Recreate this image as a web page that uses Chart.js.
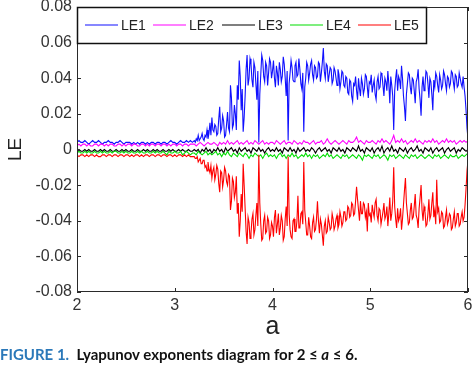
<!DOCTYPE html>
<html><head><meta charset="utf-8">
<script src="https://cdn.jsdelivr.net/npm/chart.js@4"></script>
<style>
html,body{margin:0;padding:0;background:#fff;width:474px;height:366px;overflow:hidden;}
#wrap{position:relative;width:474px;height:366px;}
canvas{position:absolute;left:0;top:0;}
#cap{position:absolute;left:0;top:345px;font:bold 15px Lato,"Open Sans",sans-serif;white-space:nowrap;color:#111;}
#cap .fig{color:#2a78b9;}
</style></head><body>
<div id="wrap"><canvas id="c" width="474" height="366"></canvas>
<div id="cap"><span class="fig">FIGURE 1.</span>&nbsp; Lyapunov exponents diagram for 2 ≤ <i>a</i> ≤ 6.</div></div>
<script>
// sampling grids of the parameter a
function grid(from, to, step) {
  return Array.from({length: Math.round((to - from) / step) + 1}, (_, i) => +(from + i * step).toFixed(2));
}
const A = grid(2, 6, 0.02);          // regular grid (2.00 .. 6.00)
const A_LOW = grid(2, 3.18, 0.02);   // quiet part (2.00 .. 3.18)
const A_FINE = grid(3.2, 6, 0.01);   // chaotic part, finer (3.20 .. 6.00)

const SERIES_NAMES = ['LE1', 'LE2', 'LE3', 'LE4', 'LE5'];
const X_TICKS = [2, 3, 4, 5, 6];
const Y_TICKS = [-0.08, -0.06, -0.04, -0.02, 0, 0.02, 0.04, 0.06, 0.08];

const LE1_LOW = [
0.004,0.005,0.004,0.004,0.005,0.004,0.003,0.004,0.005,0.004,
0.004,0.005,0.004,0.003,0.004,0.004,0.005,0.004,0.004,0.003,
0.004,0.004,0.005,0.004,0.003,0.004,0.004,0.004,0.003,0.004,
0.003,0.004,0.003,0.004,0.004,0.003,0.004,0.003,0.004,0.004,
0.003,0.004,0.004,0.003,0.004,0.004,0.003,0.004,0.005,0.004,
0.004,0.003,0.004,0.005,0.004,0.004,0.005,0.004,0.005,0.004];
const LE1_HIGH = [
0.005,0.004,0.006,0.005,0.008,0.005,0.006,0.007,0.009,0.006,
0.005,0.008,0.007,0.011,0.006,0.009,0.015,0.008,0.018,0.011,
0.010,0.014,0.013,0.008,0.009,0.017,0.024,0.010,0.012,0.019,
0.016,0.007,0.008,0.014,0.021,0.012,0.010,0.036,0.029,0.012,
0.014,0.025,0.020,0.011,0.036,0.028,0.050,0.041,0.022,0.034,
0.010,0.018,0.030,0.045,0.053,0.036,0.040,0.051,0.048,0.039,
0.035,0.049,0.046,0.037,0.028,0.044,0.004,0.031,0.042,0.053,
0.050,0.041,0.038,0.049,0.047,0.036,0.043,0.051,0.049,0.040,
0.044,0.050,0.040,0.035,0.047,0.043,0.036,0.049,0.045,0.038,
0.041,0.052,0.048,0.040,0.030,0.044,0.005,0.037,0.043,0.050,
0.046,0.039,0.038,0.047,0.049,0.041,0.042,0.051,0.045,0.037,
0.034,0.043,0.010,0.035,0.040,0.049,0.047,0.039,0.043,0.048,
0.050,0.042,0.039,0.047,0.046,0.040,0.041,0.049,0.048,0.038,
0.043,0.049,0.057,0.044,0.040,0.048,0.047,0.038,0.042,0.046,
0.045,0.037,0.039,0.046,0.044,0.040,0.036,0.045,0.042,0.034,
0.038,0.044,0.043,0.036,0.035,0.041,0.040,0.032,0.031,0.039,
0.038,0.030,0.027,0.037,0.036,0.041,0.033,0.028,0.040,0.034,
0.030,0.040,0.037,0.031,0.034,0.042,0.041,0.035,0.029,0.038,
0.037,0.042,0.032,0.036,0.039,0.031,0.028,0.038,0.041,0.034,
0.035,0.043,0.042,0.036,0.030,0.040,0.038,0.033,0.044,0.037,
0.026,0.041,0.036,0.030,0.011,0.033,0.040,0.045,0.033,0.041,
0.039,0.034,0.047,0.040,0.030,0.024,0.016,0.031,0.037,0.043,
0.042,0.035,0.031,0.040,0.039,0.033,0.026,0.038,0.040,0.045,
0.034,0.028,0.019,0.035,0.041,0.033,0.036,0.044,0.043,0.037,
0.029,0.040,0.038,0.031,0.022,0.039,0.035,0.043,0.041,0.036,
0.032,0.042,0.039,0.034,0.036,0.044,0.042,0.037,0.033,0.041,
0.040,0.035,0.037,0.044,0.043,0.038,0.034,0.042,0.041,0.035,
0.036,0.043,0.040,0.037,0.035,0.041,0.035,0.030,0.022,0.012,
0.006];

const LE2 = [
0.002,0.003,0.002,0.003,0.003,0.002,0.003,0.002,0.002,0.003,
0.003,0.002,0.003,0.003,0.002,0.003,0.002,0.003,0.003,0.002,
0.002,0.003,0.003,0.002,0.003,0.002,0.003,0.003,0.002,0.003,
0.003,0.002,0.002,0.003,0.003,0.002,0.003,0.002,0.003,0.003,
0.002,0.003,0.003,0.002,0.003,0.003,0.002,0.003,0.002,0.003,
0.003,0.002,0.003,0.003,0.002,0.003,0.003,0.002,0.003,0.003,
0.003,0.002,0.003,0.004,0.003,0.002,0.003,0.004,0.003,0.003,
0.004,0.003,0.002,0.004,0.003,0.004,0.003,0.005,0.003,0.004,
0.003,0.004,0.005,0.003,0.004,0.003,0.004,0.005,0.003,0.004,
0.003,0.005,0.004,0.003,0.004,0.005,0.003,0.004,0.003,0.004,
0.004,0.003,0.005,0.004,0.003,0.004,0.005,0.003,0.004,0.004,
0.003,0.005,0.004,0.003,0.004,0.003,0.005,0.004,0.004,0.003,
0.004,0.005,0.003,0.004,0.004,0.005,0.003,0.004,0.006,0.004,
0.003,0.004,0.005,0.004,0.003,0.004,0.005,0.004,0.003,0.005,
0.004,0.004,0.005,0.007,0.004,0.005,0.004,0.003,0.005,0.004,
0.004,0.005,0.004,0.003,0.005,0.004,0.006,0.004,0.005,0.004,
0.003,0.005,0.008,0.004,0.005,0.004,0.006,0.004,0.005,0.003,
0.004,0.005,0.004,0.006,0.004,0.005,0.004,0.003,0.005,0.004,
0.005,0.004,0.006,0.004,0.005,0.003,0.004,0.005,0.004,0.006,
0.004,0.005,0.004,0.005,0.003,0.004,0.005,0.004,0.005,0.004,
0.005];

const LE3 = [
-0.001,0.000,-0.001,-0.001,0.000,-0.001,0.000,-0.001,-0.001,0.000,
-0.001,-0.001,0.000,-0.001,0.000,-0.001,-0.001,0.000,-0.001,-0.001,
0.000,-0.001,-0.001,0.000,-0.001,0.000,-0.001,-0.001,0.000,-0.001,
-0.001,0.000,-0.001,-0.001,0.000,-0.001,0.000,-0.001,-0.001,0.000,
-0.001,0.000,-0.001,-0.001,0.000,-0.001,-0.001,0.000,-0.001,0.000,
-0.001,-0.001,0.000,-0.001,0.000,-0.001,-0.001,0.000,-0.001,-0.001,
0.000,-0.001,0.000,-0.002,0.000,-0.001,0.001,-0.001,0.000,-0.002,
0.000,-0.001,0.001,-0.001,0.000,-0.002,0.001,-0.001,0.000,0.001,
-0.001,0.000,-0.002,0.001,-0.001,0.000,0.001,-0.001,0.000,-0.002,
0.001,0.000,-0.001,0.001,-0.001,0.000,-0.002,0.000,0.001,-0.001,
0.000,-0.001,0.001,-0.001,0.000,-0.002,0.001,0.000,-0.001,0.001,
-0.001,0.000,-0.002,0.001,-0.001,0.000,0.001,-0.001,0.000,-0.001,
0.001,0.000,-0.002,0.000,0.001,-0.001,0.000,0.001,-0.001,0.000,
-0.002,0.001,0.000,-0.001,0.001,-0.001,0.000,-0.002,0.001,0.000,
-0.001,0.001,0.000,-0.001,0.002,-0.001,0.000,-0.002,0.001,0.000,
-0.001,0.001,-0.002,0.000,0.001,-0.001,0.002,-0.002,0.000,0.001,
-0.001,0.002,-0.001,0.000,-0.002,0.001,0.000,-0.001,0.001,-0.002,
0.000,0.001,-0.001,0.000,0.002,-0.001,0.000,-0.002,0.001,0.000,
-0.001,0.001,-0.002,0.000,0.001,-0.001,0.000,0.001,-0.002,0.000,
0.001,-0.001,0.000,0.001,-0.002,0.000,-0.001,0.001,0.000,-0.001,
0.000];

const LE4 = [
-0.002,-0.001,-0.002,-0.002,-0.001,-0.002,-0.001,-0.002,-0.002,-0.001,
-0.002,-0.002,-0.001,-0.002,-0.001,-0.002,-0.002,-0.001,-0.002,-0.001,
-0.001,-0.002,-0.002,-0.001,-0.002,-0.001,-0.002,-0.002,-0.001,-0.002,
-0.002,-0.001,-0.002,-0.001,-0.002,-0.002,-0.001,-0.002,-0.002,-0.001,
-0.002,-0.001,-0.002,-0.002,-0.001,-0.002,-0.003,-0.001,-0.002,-0.002,
-0.001,-0.002,-0.002,-0.001,-0.003,-0.002,-0.001,-0.002,-0.003,-0.002,
-0.002,-0.003,-0.001,-0.002,-0.003,-0.002,-0.001,-0.003,-0.002,-0.003,
-0.002,-0.001,-0.003,-0.002,-0.004,-0.002,-0.003,-0.001,-0.003,-0.004,
-0.002,-0.003,-0.004,-0.002,-0.003,-0.004,-0.002,-0.003,-0.005,-0.003,
-0.004,-0.002,-0.003,-0.004,-0.003,-0.005,-0.003,-0.002,-0.004,-0.003,
-0.004,-0.003,-0.005,-0.003,-0.002,-0.004,-0.003,-0.005,-0.003,-0.004,
-0.002,-0.004,-0.003,-0.005,-0.004,-0.003,-0.004,-0.002,-0.004,-0.003,
-0.005,-0.003,-0.004,-0.003,-0.005,-0.004,-0.003,-0.004,-0.002,-0.004,
-0.003,-0.005,-0.004,-0.003,-0.004,-0.005,-0.003,-0.004,-0.003,-0.005,
-0.004,-0.003,-0.004,-0.005,-0.003,-0.004,-0.006,-0.003,-0.004,-0.003,
-0.004,-0.005,-0.003,-0.004,-0.003,-0.005,-0.004,-0.003,-0.004,-0.006,
-0.003,-0.004,-0.003,-0.005,-0.004,-0.003,-0.004,-0.005,-0.003,-0.004,
-0.005,-0.003,-0.004,-0.003,-0.005,-0.004,-0.003,-0.004,-0.005,-0.004,
-0.003,-0.004,-0.005,-0.003,-0.004,-0.003,-0.005,-0.004,-0.003,-0.004,
-0.005,-0.003,-0.004,-0.004,-0.003,-0.005,-0.004,-0.003,-0.004,-0.003,
-0.002];

const LE5_LOW = [
-0.003,-0.004,-0.003,-0.003,-0.004,-0.003,-0.004,-0.003,-0.003,-0.004,
-0.003,-0.004,-0.004,-0.003,-0.003,-0.004,-0.003,-0.003,-0.004,-0.003,
-0.003,-0.004,-0.003,-0.003,-0.004,-0.003,-0.003,-0.004,-0.003,-0.004,
-0.003,-0.003,-0.004,-0.003,-0.004,-0.003,-0.003,-0.004,-0.003,-0.003,
-0.004,-0.003,-0.003,-0.004,-0.003,-0.003,-0.004,-0.003,-0.003,-0.004,
-0.003,-0.004,-0.003,-0.003,-0.004,-0.003,-0.004,-0.003,-0.004,-0.004];
const LE5_HIGH = [
-0.004,-0.005,-0.005,-0.004,-0.007,-0.006,-0.005,-0.008,-0.008,-0.006,
-0.006,-0.010,-0.009,-0.012,-0.007,-0.011,-0.013,-0.009,-0.016,-0.012,
-0.010,-0.017,-0.014,-0.009,-0.011,-0.019,-0.024,-0.012,-0.013,-0.021,
-0.017,-0.010,-0.012,-0.018,-0.020,-0.014,-0.015,-0.034,-0.029,-0.016,
-0.018,-0.027,-0.024,-0.015,-0.036,-0.030,-0.049,-0.040,-0.025,-0.035,
-0.008,-0.020,-0.033,-0.046,-0.053,-0.038,-0.041,-0.050,-0.047,-0.039,
-0.036,-0.048,-0.045,-0.037,-0.030,-0.043,-0.003,-0.030,-0.042,-0.051,
-0.050,-0.040,-0.037,-0.047,-0.046,-0.038,-0.040,-0.050,-0.048,-0.041,
-0.043,-0.049,-0.038,-0.034,-0.047,-0.042,-0.036,-0.048,-0.044,-0.037,
-0.040,-0.051,-0.049,-0.039,-0.032,-0.043,-0.004,-0.036,-0.045,-0.049,
-0.050,-0.040,-0.039,-0.046,-0.046,-0.040,-0.026,-0.044,-0.044,-0.036,
-0.035,-0.042,-0.007,-0.034,-0.041,-0.048,-0.048,-0.038,-0.043,-0.049,
-0.050,-0.041,-0.038,-0.046,-0.045,-0.039,-0.029,-0.040,-0.047,-0.039,
-0.042,-0.048,-0.054,-0.043,-0.040,-0.047,-0.046,-0.038,-0.041,-0.045,
-0.044,-0.036,-0.039,-0.045,-0.043,-0.039,-0.037,-0.044,-0.042,-0.035,
-0.038,-0.043,-0.041,-0.035,-0.035,-0.040,-0.039,-0.032,-0.033,-0.038,
-0.037,-0.030,-0.031,-0.037,-0.036,-0.029,-0.021,-0.028,-0.034,-0.040,
-0.029,-0.036,-0.036,-0.030,-0.031,-0.038,-0.035,-0.046,-0.030,-0.037,
-0.036,-0.041,-0.031,-0.035,-0.038,-0.030,-0.028,-0.037,-0.040,-0.033,
-0.034,-0.042,-0.042,-0.035,-0.030,-0.039,-0.037,-0.032,-0.043,-0.036,
-0.027,-0.040,-0.036,-0.029,-0.010,-0.032,-0.039,-0.044,-0.033,-0.040,
-0.038,-0.033,-0.045,-0.039,-0.031,-0.023,-0.016,-0.030,-0.036,-0.042,
-0.041,-0.034,-0.030,-0.039,-0.038,-0.032,-0.025,-0.037,-0.039,-0.044,
-0.033,-0.027,-0.020,-0.034,-0.040,-0.032,-0.035,-0.043,-0.042,-0.036,
-0.028,-0.039,-0.037,-0.030,-0.024,-0.038,-0.034,-0.042,-0.017,-0.035,
-0.033,-0.041,-0.040,-0.035,-0.036,-0.044,-0.043,-0.038,-0.034,-0.042,
-0.040,-0.036,-0.037,-0.045,-0.044,-0.039,-0.035,-0.043,-0.041,-0.036,
-0.036,-0.043,-0.042,-0.038,-0.035,-0.040,-0.038,-0.031,-0.022,-0.012,
-0.006];

const COLORS = ['#1010ff', '#ff00ff', '#000000', '#00dd00', '#ff0000'];
const FONT = '"Liberation Sans", Arial, sans-serif';

function pts(xs, ys) { return xs.map((a, i) => ({x: a, y: ys[i]})); }
const SERIES_POINTS = [
  pts(A_LOW, LE1_LOW).concat(pts(A_FINE, LE1_HIGH)),
  pts(A, LE2),
  pts(A, LE3),
  pts(A, LE4),
  pts(A_LOW, LE5_LOW).concat(pts(A_FINE, LE5_HIGH))
];

const framePlugin = {
  id: 'frameAndLegend',
  afterDatasetsDraw(chart) {
    const {ctx, chartArea: {left, right, top, bottom}, scales: {x, y}} = chart;
    ctx.save();
    ctx.strokeStyle = '#2a2a2a';
    ctx.lineWidth = 1;
    ctx.strokeRect(left + 0.5, top + 0.5, right - left - 1, bottom - top - 1);
    const tl = 4;
    ctx.beginPath();
    x.ticks.forEach(t => {
      const px = Math.round(x.getPixelForValue(t.value)) + 0.5;
      ctx.moveTo(px, bottom); ctx.lineTo(px, bottom - tl);
      ctx.moveTo(px, top); ctx.lineTo(px, top + tl);
    });
    y.ticks.forEach(t => {
      const py = Math.round(y.getPixelForValue(t.value)) + 0.5;
      ctx.moveTo(left, py); ctx.lineTo(left + tl, py);
      ctx.moveTo(right, py); ctx.lineTo(right - tl, py);
    });
    ctx.stroke();

    // legend box (inside the axes, top-left)
    const bx = left + 0.5, by = top + 0.5, bw = 349, bh = 36;
    ctx.fillStyle = '#ffffff';
    ctx.fillRect(bx, by, bw, bh);
    ctx.strokeStyle = '#111';
    ctx.lineWidth = 1.5;
    ctx.strokeRect(bx, by, bw, bh);
    ctx.font = '14px ' + FONT;
    ctx.textBaseline = 'middle';
    ctx.textAlign = 'left';
    const cy = top + 18;
    SERIES_NAMES.forEach((name, i) => {
      const sx = Math.round(left + 8 + i * 68.3);
      ctx.beginPath();
      ctx.strokeStyle = COLORS[i];
      ctx.lineWidth = 1.2;
      ctx.moveTo(sx, cy); ctx.lineTo(sx + 33, cy);
      ctx.stroke();
      ctx.fillStyle = '#222';
      ctx.fillText(name, sx + 36, cy + 1);
    });
    ctx.restore();
  }
};

new Chart(document.getElementById('c'), {
  type: 'line',
  data: {
    datasets: SERIES_POINTS.map((data, k) => ({
      label: SERIES_NAMES[k],
      data: data,
      borderColor: COLORS[k],
      borderWidth: 1.1,
      pointRadius: 0,
      tension: 0,
      fill: false,
      order: 5 - k
    }))
  },
  options: {
    responsive: false,
    animation: false,
    events: [],
    layout: {padding: {top: 7, right: 6, left: 0, bottom: 0}},
    plugins: {legend: {display: false}, tooltip: {enabled: false}},
    scales: {
      x: {
        type: 'linear', min: 2, max: 6,
        afterBuildTicks: s => { s.ticks = X_TICKS.map(v => ({value: v})); },
        ticks: {font: {size: 16, family: FONT}, color: '#333', padding: 4, maxRotation: 0,
                callback: v => String(v)},
        grid: {display: false, drawTicks: false},
        border: {display: false},
        title: {display: true, text: 'a', font: {size: 25, family: FONT}, color: '#222', padding: {top: 0, bottom: 24}},
        afterFit: s => { s.height = 74; s.paddingLeft = 0; s.paddingRight = 0; }
      },
      y: {
        min: -0.08, max: 0.08,
        afterBuildTicks: s => { s.ticks = Y_TICKS.map(v => ({value: v})); },
        ticks: {font: {size: 16, family: FONT}, color: '#333', padding: 5,
                callback: v => (Math.abs(v) < 1e-9 ? '0' : v.toFixed(2))},
        grid: {display: false, drawTicks: false},
        border: {display: false},
        title: {display: true, text: 'LE', font: {size: 19, family: FONT}, color: '#222', padding: {top: 4, bottom: 0}},
        afterFit: s => { s.width = 77; s.paddingTop = 0; s.paddingBottom = 0; }
      }
    }
  },
  plugins: [framePlugin]
});
</script>
</body></html>
